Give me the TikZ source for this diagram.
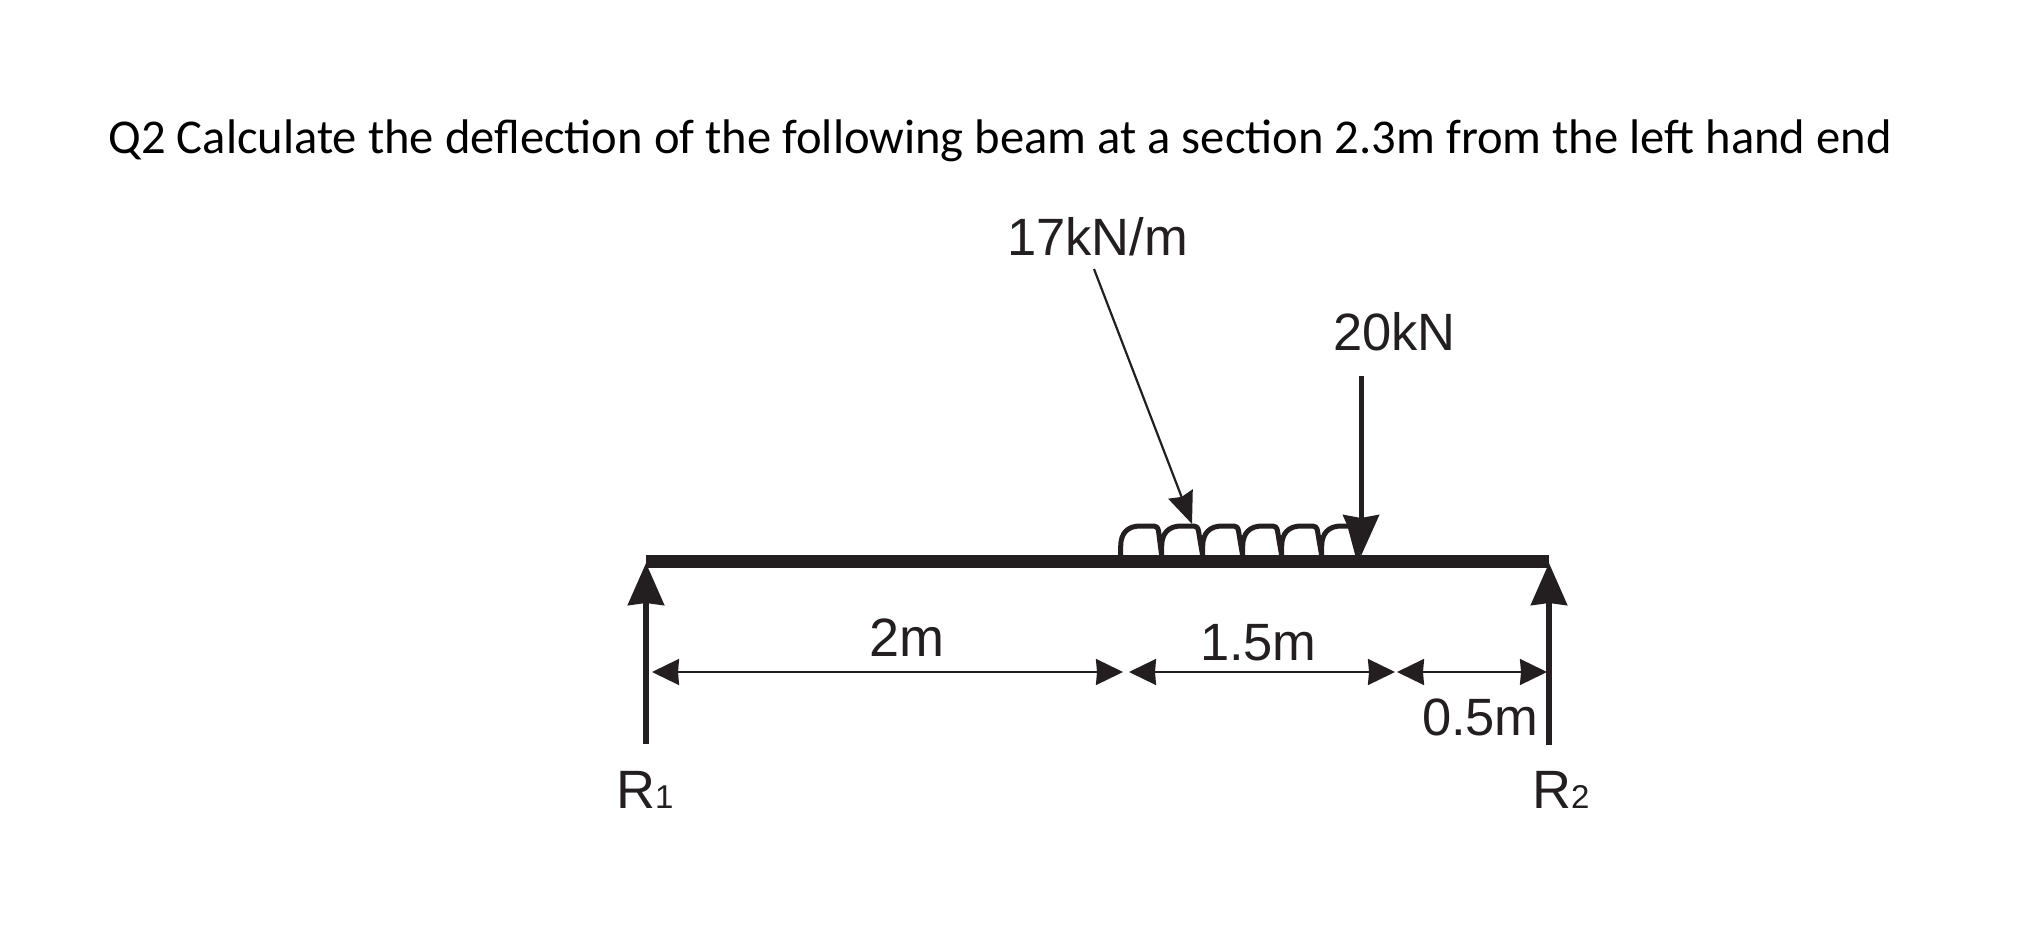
\documentclass[tikz,border=0pt]{standalone}
\usepackage{fontspec}
\setmainfont{Liberation Sans}
\newfontfamily\titlefont{Carlito}
\usetikzlibrary{arrows.meta}
\definecolor{ink}{HTML}{231F20}
\tikzset{
  lbl/.style={anchor=base west,inner sep=0pt,outer sep=0pt,text=ink,font=\fontsize{52.5}{60}\selectfont},
  lblb/.style={lbl,font=\fontsize{54}{60}\selectfont},
  heavy/.style={draw=ink,line width=5.5pt,-{Stealth[length=42pt,width=36pt,inset=2pt]}},
  dimline/.style={draw=ink,line width=2pt,{Stealth[length=27pt,width=26pt,inset=1pt]}-{Stealth[length=27pt,width=26pt,inset=1pt]}},
  thin load/.style={draw=ink,line width=2.2pt,-{Stealth[length=32pt,width=26pt,inset=3pt]}},
  beam/.style={draw=ink,line width=13pt},
  udl/.style={draw=ink,line width=5pt,line join=round}
}
\newcommand{\sm}[1]{{\fontsize{33}{36}\selectfont #1}}
\begin{document}
\begin{tikzpicture}[x=1pt,y=-1pt]
\useasboundingbox[fill=white] (0,0) rectangle (2026,933);
\node[anchor=base west,inner sep=0pt,outer sep=0pt,text=black,font=\titlefont\fontsize{48.6}{54}\selectfont] (title) at (108.5,154) {Q2 Calculate the deflection of the following beam at a section 2.3m from the left hand end};
% beam
\coordinate (bL) at (646,561);
\coordinate (bR) at (1549,561);
\draw[beam] (bL) -- (bR);
% distributed load
\draw[udl]
  (1120.7,556) -- (1120.7,546) .. controls (1120.7,533) and (1128,526) .. (1140,526) -- (1152,526) .. controls (1156,526) and (1158,527) .. (1158.5,531) -- (1161.7,556)
  -- (1161.7,546) .. controls (1161.7,533) and (1169,526) .. (1181,526) -- (1192,526) .. controls (1196,526) and (1198,527) .. (1198.5,531) -- (1202.7,556)
  -- (1202.7,546) .. controls (1202.7,533) and (1210,526) .. (1222,526) -- (1232,526) .. controls (1236,526) and (1238,527) .. (1238.5,531) -- (1242.7,556)
  -- (1242.7,546) .. controls (1242.7,533) and (1250,526) .. (1262,526) -- (1271,526) .. controls (1275,526) and (1277,527) .. (1277.5,531) -- (1281.7,556)
  -- (1281.7,546) .. controls (1281.7,533) and (1289,526) .. (1301,526) -- (1311,526) .. controls (1315,526) and (1317,527) .. (1317.5,531) -- (1321.7,556)
  -- (1321.7,546) .. controls (1321.7,533) and (1329,526) .. (1341,526) -- (1350,526) -- (1358,556);
% loads
\coordinate (wS) at (1094,269);
\coordinate (wE) at (1192,524);
\draw[thin load] (wS) -- (wE);
\coordinate (pS) at (1361,376);
\coordinate (pE) at (1361,556);
\draw[draw=ink,line width=5pt,-{Stealth[length=41pt,width=36pt,inset=3pt]}] (pS) -- (pE);
% reactions
\coordinate (r1S) at (646,744);
\coordinate (r1E) at (646,563);
\coordinate (r2S) at (1549,745);
\coordinate (r2E) at (1549,563);
\draw[heavy] (r1S) -- (r1E);
\draw[heavy] (r2S) -- (r2E);
% dimensions
\coordinate (d0) at (652,672);
\coordinate (d1) at (1123,672);
\coordinate (d2) at (1129,672);
\coordinate (d3) at (1395,672);
\coordinate (d4) at (1397,672);
\coordinate (d5) at (1547,672);
\draw[dimline] (d0) -- (d1);
\draw[dimline] (d2) -- (d3);
\draw[dimline] (d4) -- (d5);
% labels
\node[lbl] (lw) at (1007,256) {17kN/m};
\node[lbl] (lp) at (1333,350) {20kN};
\node[lblb] (l2) at (869,656) {2m};
\node[lbl] (l15) at (1200,660) {1.5m};
\node[lbl] (l05) at (1422,735) {0.5m};
\node[lblb] (lr1) at (616,808) {R\sm{1}};
\node[lblb] (lr2) at (1532,808) {R\sm{2}};
\end{tikzpicture}
\end{document}
